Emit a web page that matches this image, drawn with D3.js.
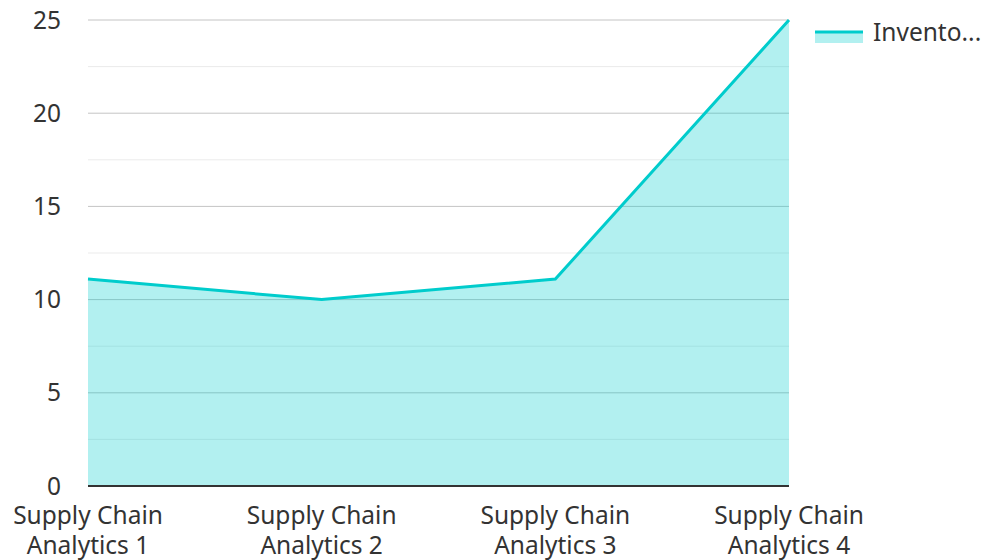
<!DOCTYPE html>
<html><head><meta charset="utf-8">
<script src="https://cdn.jsdelivr.net/npm/d3@7"></script>
<style>body{margin:0;background:#fff;font-family:"Noto Sans",sans-serif;}</style>
</head><body>
<svg id="c" width="984" height="560"></svg>
<script>
const categories = ["Supply Chain Analytics 1","Supply Chain Analytics 2","Supply Chain Analytics 3","Supply Chain Analytics 4"];
const values = [11.1, 10, 11.1, 25];
const seriesName = "Inventory";
const yTicks = [0,5,10,15,20,25];
const yMinor = [2.5,7.5,12.5,17.5,22.5];

(function(){
const svg = d3.select("#c");
const mLeft=88,mRight=789,mTop=20,mBottom=486;
const x = d3.scalePoint().domain(categories).range([mLeft,mRight]);
const y = d3.scaleLinear().domain([0,25]).range([mBottom,mTop]);
const font='"Noto Sans",sans-serif';
const fs=24.5;

svg.append("g").selectAll("line").data(yMinor).join("line")
  .attr("x1",mLeft).attr("x2",mRight).attr("y1",d=>y(d)).attr("y2",d=>y(d))
  .attr("stroke","#ebebeb").attr("stroke-width",1);
svg.append("g").selectAll("line").data(yTicks.filter(d=>d>0)).join("line")
  .attr("x1",mLeft).attr("x2",mRight).attr("y1",d=>y(d)).attr("y2",d=>y(d))
  .attr("stroke","#c4c4c4").attr("stroke-width",1);

const area = d3.area().x((d,i)=>x(categories[i])).y0(y(0)).y1(d=>y(d));
svg.append("path").datum(values).attr("d",area).attr("fill","#00cccc").attr("fill-opacity",0.3);
const line = d3.line().x((d,i)=>x(categories[i])).y(d=>y(d));
svg.append("path").datum(values).attr("d",line).attr("fill","none").attr("stroke","#00cccc").attr("stroke-width",3);

svg.append("line").attr("x1",mLeft).attr("x2",mRight).attr("y1",mBottom).attr("y2",mBottom)
  .attr("stroke","#333").attr("stroke-width",2);

svg.append("g").selectAll("text").data(yTicks).join("text")
  .attr("x",61).attr("y",d=>y(d)).attr("dy","0.35em").attr("text-anchor","end")
  .attr("font-family",font).attr("font-size",fs).attr("fill","#333").text(d=>d);

const xl = svg.append("g").selectAll("text").data(categories).join("text")
  .attr("text-anchor","middle").attr("font-family",font).attr("font-size",fs).attr("fill","#333");
xl.each(function(d){
  const words=d.split(" ");
  const l1=words.slice(0,2).join(" "), l2=words.slice(2).join(" ");
  const t=d3.select(this);
  t.append("tspan").attr("x",x(d)).attr("y",524).text(l1);
  t.append("tspan").attr("x",x(d)).attr("y",554).text(l2);
});

const lg = svg.append("g");
lg.append("rect").attr("x",815).attr("y",31).attr("width",48).attr("height",12).attr("fill","#00cccc").attr("fill-opacity",0.3);
lg.append("line").attr("x1",815).attr("x2",863).attr("y1",32).attr("y2",32).attr("stroke","#00cccc").attr("stroke-width",3);
lg.append("text").attr("x",873).attr("y",32).attr("dy","0.35em").attr("font-family",font).attr("font-size",fs).attr("fill","#333").text("Invento...");
})();
</script>
</body></html>
